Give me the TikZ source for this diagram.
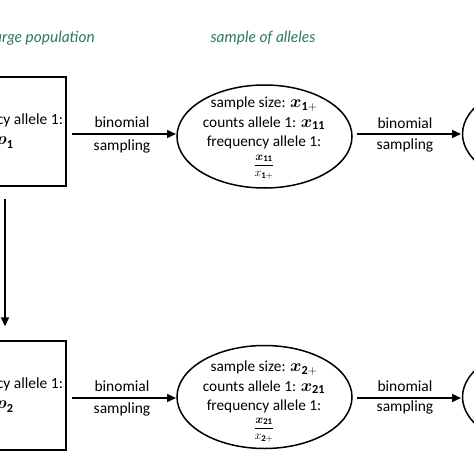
\documentclass[tikz,border=0pt]{standalone}
\usepackage{amsmath}
\usepackage{fontspec}
\setmainfont{Carlito}
\newfontfamily\greenfont{Lato}
\usetikzlibrary{shapes.geometric,arrows.meta}
\definecolor{labgreen}{RGB}{46,125,90}
\newcommand{\largemath}[1]{{\fontsize{17.5}{19.5}\selectfont\(#1\)}}
\tikzset{
  popbox/.style={draw, line width=1.3pt, rectangle, minimum width=122pt, minimum height=109pt, inner sep=0pt, align=center, font=\fontsize{15.5}{20}\selectfont},
  sampell/.style={draw, line width=1.5pt, ellipse, minimum width=175pt, minimum height=103pt, inner sep=0pt},
  etxt/.style={align=center, inner sep=0pt, font=\fontsize{15.3}{19.5}\selectfont},
  ftxt/.style={inner sep=0pt, font=\fontsize{12.5}{14}\selectfont},
  arr/.style={line width=1.5pt, -{Triangle[length=9pt,width=8pt]}},
  lab/.style={inner sep=0pt, font=\fontsize{15.5}{18}\selectfont},
  glab/.style={inner sep=0pt, text=labgreen, font=\greenfont\itshape\fontsize{15.5}{18}\selectfont}
}
\begin{document}
\begin{tikzpicture}[x=1pt,y=-1pt]
\useasboundingbox (0,0) rectangle (474,474);
\clip (0,0) rectangle (474,474);
\fill[white] (0,0) rectangle (474,474);

% green headings
\node[glab, anchor=east] (g1) at (95,38) {large population};
\node[glab] (g2) at (263,38) {sample of alleles};

% population boxes
\node[popbox] (pop1) at (5,131.5) {frequency allele 1:\\ \largemath{\boldsymbol{p}_{\mathbf{1}}}};
\node[popbox] (pop2) at (5,395.5) {frequency allele 1:\\ \largemath{\boldsymbol{p}_{\mathbf{2}}}};

% sample ellipses
\node[sampell] (s1) at (264.5,136.5) {};
\node[etxt] (s1t) at (264,123) {sample size: \largemath{\boldsymbol{x}_{\mathbf{1}+}}\\ counts allele 1: \largemath{\boldsymbol{x}_{\mathbf{11}}}\\ frequency allele 1:};
\node[ftxt] (s1f) at (264,167) {\(\displaystyle\frac{\boldsymbol{x}_{\mathbf{11}}}{x_{\mathbf{1}+}}\)};

\node[sampell] (s2) at (264.5,397) {};
\node[etxt] (s2t) at (264,387) {sample size: \largemath{\boldsymbol{x}_{\mathbf{2}+}}\\ counts allele 1: \largemath{\boldsymbol{x}_{\mathbf{21}}}\\ frequency allele 1:};
\node[ftxt] (s2f) at (264,430) {\(\displaystyle\frac{\boldsymbol{x}_{\mathbf{21}}}{x_{\mathbf{2}+}}\)};

% right ellipses (cut off)
\node[sampell] (r1) at (550,134) {};
\node[sampell] (r2) at (550,397) {};

% arrows
\coordinate (a1s) at (72,134);
\coordinate (a1e) at (176,134);
\draw[arr] (a1s) -- (a1e);
\node[lab] (b1) at (122,122) {binomial};
\node[lab] (c1) at (122,146) {sampling};

\coordinate (a2s) at (357,134);
\coordinate (a2e) at (461,134);
\draw[arr] (a2s) -- (a2e);
\node[lab] (b2) at (405,123) {binomial};
\node[lab] (c2) at (405,145) {sampling};

\coordinate (a3s) at (72,398);
\coordinate (a3e) at (176,398);
\draw[arr] (a3s) -- (a3e);
\node[lab] (b3) at (122,386) {binomial};
\node[lab] (c3) at (122,409) {sampling};

\coordinate (a4s) at (357,398);
\coordinate (a4e) at (461,398);
\draw[arr] (a4s) -- (a4e);
\node[lab] (b4) at (405,386) {binomial};
\node[lab] (c4) at (405,407) {sampling};

% vertical arrow
\draw[arr] ([yshift=-12pt]pop1.south) -- ([yshift=14pt]pop2.north);
\end{tikzpicture}
\end{document}
